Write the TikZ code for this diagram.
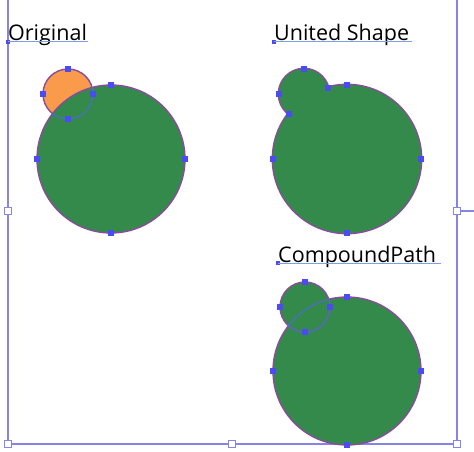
\documentclass[tikz,border=0pt]{standalone}
\usepackage{fontspec}
\setmainfont{Open Sans}
\usetikzlibrary{calc}
\definecolor{shapegreen}{HTML}{338A4B}
\definecolor{shapeorange}{HTML}{F99B4B}
\definecolor{edge}{HTML}{8A4C9C}
\definecolor{selblue}{HTML}{4A70BE}
\definecolor{grip}{HTML}{4B4BF2}
\definecolor{frame}{HTML}{8686E2}
\definecolor{uline}{HTML}{7E9EE6}

\begin{document}
\begin{tikzpicture}[x=1pt,y=-1pt,
  bigc/.style={circle,minimum size=148pt,inner sep=0pt,outer sep=0pt,draw=edge,line width=1.4pt,fill=shapegreen},
  smallc/.style={circle,minimum size=50pt,inner sep=0pt,outer sep=0pt,draw=edge,line width=1.4pt,fill=shapegreen},
  gripbox/.style={rectangle,fill=grip,minimum size=6pt,inner sep=0pt},
  framebox/.style={rectangle,draw=frame,fill=white,minimum size=7pt,inner sep=0pt,line width=1pt},
  title/.style={anchor=base west,inner sep=0pt,font=\fontsize{21.5}{24}\selectfont},
  underline/.style={draw=uline,line width=1pt},
]
\useasboundingbox (0,0) rectangle (474,452);

% selection frame
\coordinate (frTL) at (8,-30);
\coordinate (frBR) at (457,444);
\draw[frame,line width=1.2pt] (frTL) rectangle (frBR);
\coordinate (rotEnd) at (474,211);
\node[framebox] (frW) at (8,211) {};
\node[framebox] (frE) at (457,211) {};
\node[framebox] (frS) at (232,444) {};
\node[framebox] (frSW) at (8,444) {};
\node[framebox] (frSE) at (457,444) {};
\draw[frame,line width=1.2pt] (frE) -- (rotEnd);

% titles
\node[title] (tOrig) at (8,41) {Original};
\node[title] (tUnit) at (274,41) {United Shape};
\node[title] (tComp) at (278,262) {CompoundPath};
\foreach \t/\x/\y/\w in {tOrig/8/42/88,tUnit/274/42/412,tComp/278/263/441}{
  \coordinate (\t-end) at (\w,\y);
  \node[gripbox,minimum size=4pt] (\t-grip) at (\x,\y) {};
  \draw[underline] (\t-grip.center) -- (\t-end);
}

% original: orange behind green
\node[smallc,fill=shapeorange] (oSmall) at (68,94) {};
\node[bigc] (oBig) at (111,159) {};
\begin{scope}
  \clip (oBig.center) circle[radius=74pt];
  \draw[selblue,line width=1.3pt] (oSmall.center) circle[radius=25pt];
\end{scope}
\foreach \a in {north,south,east,west}{
  \node[gripbox] at (oSmall.\a) {};
  \node[gripbox] at (oBig.\a) {};
}

% united shape: outer outline only
\node[bigc,line width=2.8pt,fill=none] (uBig) at (347,159) {};
\node[smallc,line width=2.8pt,fill=none] (uSmall) at (304,94) {};
\fill[shapegreen] (uBig.center) circle[radius=74pt];
\fill[shapegreen] (uSmall.center) circle[radius=25pt];
\coordinate (uCut1) at (328,88);
\coordinate (uCut2) at (289,114);
\foreach \p in {uSmall.north,uSmall.west,uCut1,uCut2,uBig.north,uBig.south,uBig.east,uBig.west}{
  \node[gripbox] at (\p) {};
}

% compound path: both outlines kept
\node[bigc] (cBig) at (347,371) {};
\node[smallc] (cSmall) at (305,307) {};
\begin{scope}
  \clip (cBig.center) circle[radius=74pt];
  \draw[selblue,line width=1.3pt] (cSmall.center) circle[radius=25pt];
\end{scope}
\begin{scope}
  \clip (cSmall.center) circle[radius=25pt];
  \draw[selblue,line width=1.3pt] (cBig.center) circle[radius=74pt];
\end{scope}
\foreach \a in {north,south,east,west}{
  \node[gripbox] at (cSmall.\a) {};
  \node[gripbox] at (cBig.\a) {};
}
\end{tikzpicture}
\end{document}
